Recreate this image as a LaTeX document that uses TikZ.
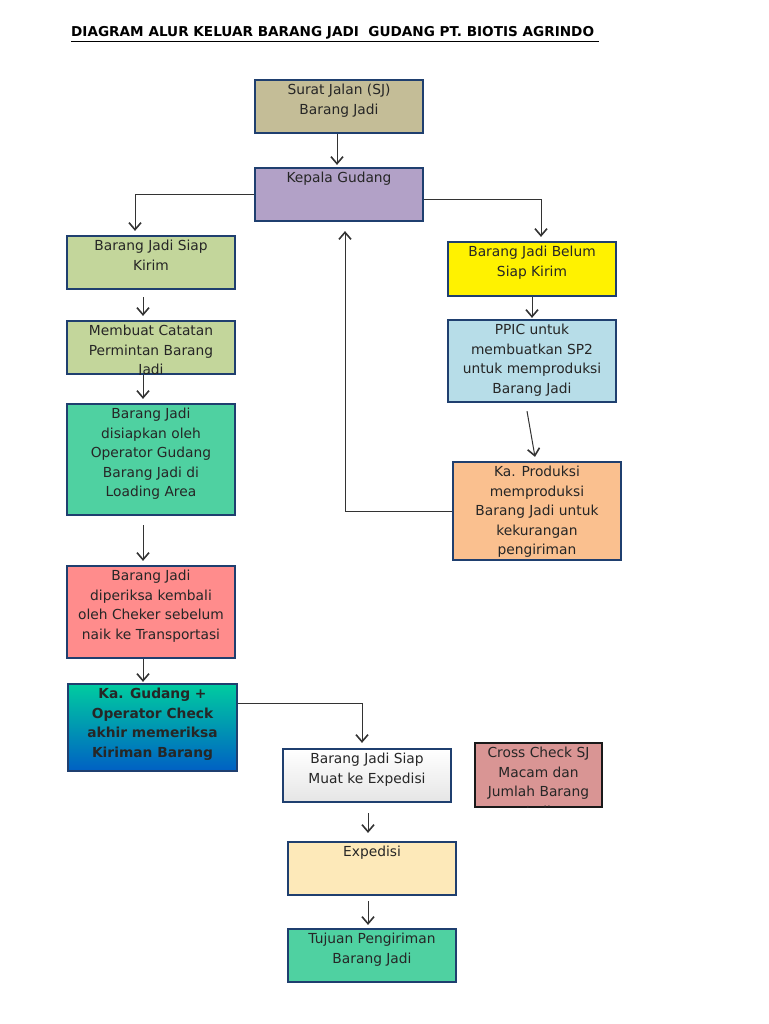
\documentclass[tikz,border=0pt]{standalone}
\usepackage{fontspec}
\setmainfont{DejaVu Sans}
\usetikzlibrary{arrows.meta}
\definecolor{bd}{HTML}{1F3F6F}
\definecolor{cSJ}{HTML}{C4BD97}
\definecolor{cKG}{HTML}{B2A1C7}
\definecolor{cGr}{HTML}{C3D69B}
\definecolor{cTe}{HTML}{4FD1A1}
\definecolor{cRe}{HTML}{FF8C8C}
\definecolor{cT1}{HTML}{00CCA0}
\definecolor{cT2}{HTML}{0060C4}
\definecolor{cBl}{HTML}{B7DDE8}
\definecolor{cOr}{HTML}{FAC08F}
\definecolor{cCC}{HTML}{D99594}
\definecolor{cEx}{HTML}{FDE9B9}
\tikzset{
 box/.style={draw=bd,line width=2.2pt,inner sep=0pt},
 txt/.style={align=center,font=\fontsize{13.8}{19.5}\selectfont,inner sep=0pt,text=black!85},
 con/.style={draw=black!80,line width=1pt},
 arr/.style={con,-{Straight Barb[length=7pt,width=12pt,line width=1.6pt]}}
}
\newcommand\bbox[7]{%
 \node[box,#6,minimum width={(#4-#2)*1pt},minimum height={(#5-#3)*1pt}] (#1) at ({(#2+#4)/2},{(#3+#5)/2}) {};
 \begin{scope}\clip ([shift={(1pt,1pt)}]#1.south west) rectangle ([shift={(-1pt,-1pt)}]#1.north east);
 \node[txt,anchor=north] (#1t) at ([yshift=-5pt]#1.north) {#7};\end{scope}}
\begin{document}
\begin{tikzpicture}[x=1pt,y=-1pt]
\useasboundingbox (0,0) rectangle (768,1024);
\node[font=\fontsize{13.6}{15}\selectfont\bfseries,anchor=west,inner sep=0pt] (title) at (71,34) {\underline{DIAGRAM ALUR KELUAR BARANG JADI\ \ GUDANG PT. BIOTIS AGRINDO\ }};
\bbox{sj}{255}{80}{423}{133}{fill=cSJ}{Surat Jalan (SJ)\\Barang Jadi}
\bbox{kg}{255}{168}{423}{221}{fill=cKG}{Kepala Gudang}
\bbox{bs}{67}{236}{235}{289}{fill=cGr}{Barang Jadi Siap\\Kirim}
\bbox{mc}{67}{321}{235}{374}{fill=cGr}{Membuat Catatan\\Permintan Barang\\Jadi}
\bbox{bj}{67}{404}{235}{515}{fill=cTe}{Barang Jadi\\disiapkan oleh\\Operator Gudang\\Barang Jadi di\\Loading Area}
\bbox{dp}{67}{566}{235}{658}{fill=cRe}{Barang Jadi\\diperiksa kembali\\oleh Cheker sebelum\\naik ke Transportasi}
\bbox{kc}{68}{684}{237}{771}{top color=cT1,bottom color=cT2}{\bfseries Ka. Gudang +\\\bfseries Operator Check\\\bfseries akhir memeriksa\\\bfseries Kiriman Barang}
\bbox{bb}{448}{242}{616}{296}{fill=yellow}{Barang Jadi Belum\\Siap Kirim}
\bbox{pp}{448}{320}{616}{402}{fill=cBl}{PPIC untuk\\membuatkan SP2\\untuk memproduksi\\Barang Jadi}
\bbox{kp}{453}{462}{621}{560}{fill=cOr}{Ka. Produksi\\memproduksi\\Barang Jadi untuk\\kekurangan\\pengiriman}
\bbox{sm}{283}{749}{451}{802}{top color=white,bottom color=black!10}{Barang Jadi Siap\\Muat ke Expedisi}
\bbox{cc}{475}{743}{602}{807}{fill=cCC,draw=black!90}{Cross Check SJ\\Macam dan\\Jumlah Barang\\Jadi}
\bbox{ex}{288}{842}{456}{895}{fill=cEx}{Expedisi}
\bbox{tj}{288}{929}{456}{982}{fill=cTe}{Tujuan Pengiriman\\Barang Jadi}
\coordinate (kgL) at (135,194.5);
\coordinate (kgR) at (541,200);
\coordinate (kcR) at (362,703);
\coordinate (kpL) at (345,511);
\coordinate (lc) at (143,0);
\draw[arr] (sj.south -| 337,0) -- ([yshift=2pt]kg.north -| 337,0);
\draw[arr] (kg.west) -- (kgL) -- ([yshift=4pt]bs.north -| kgL);
\draw[arr] ([yshift=-5.5pt]kg.east) -- (kgR) -- ([yshift=4pt]bb.north -| kgR);
\draw[arr] ([yshift=-7pt]bs.south -| lc) -- ([yshift=4pt]mc.north -| lc);
\draw[arr] (mc.south -| lc) -- ([yshift=4pt]bj.north -| lc);
\draw[arr] ([yshift=-9pt]bj.south -| lc) -- ([yshift=4pt]dp.north -| lc);
\draw[arr] (dp.south -| lc) -- ([yshift=1pt]kc.north -| lc);
\draw[arr] ([yshift=24.5pt]kc.east) -- (kcR) -- ([yshift=5pt]sm.north -| kcR);
\draw[arr] (bb.south) -- ([yshift=1pt]pp.north);
\draw[arr] ([xshift=-5pt,yshift=-8pt]pp.south) -- ([xshift=-1pt,yshift=4pt]kp.north -| 536,0);
\draw[arr] (kp.west) -- (kpL) -- ([yshift=-9pt]kg.south -| kpL);
\draw[arr] ([yshift=-10pt]sm.south -| 368,0) -- ([yshift=8pt]ex.north -| 368,0);
\draw[arr] ([yshift=-5pt]ex.south -| 368,0) -- ([yshift=3pt]tj.north -| 368,0);
\end{tikzpicture}
\end{document}
